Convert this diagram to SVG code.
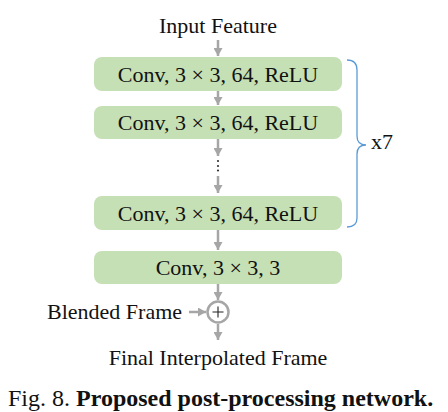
<svg xmlns="http://www.w3.org/2000/svg" width="448" height="412" viewBox="0 0 448 412">
<style>
.box{fill:#c5e0b4;stroke:none}
.t{font-family:"Liberation Serif","Times New Roman",serif;font-size:22px;fill:#111;text-anchor:middle}
.lbl{font-family:"Liberation Serif","Times New Roman",serif;font-size:22px;fill:#111}
.ar{stroke:#a6a6a6;stroke-width:2.5;fill:none;marker-end:url(#ah)}
</style>
<defs>
<marker id="ah" markerUnits="userSpaceOnUse" markerWidth="9" markerHeight="9" refX="8" refY="4.5" orient="auto">
<path d="M0,0 L8,4.5 L0,9 Z" fill="#a6a6a6"/>
</marker>
</defs>
<rect width="448" height="412" fill="#fff"/>
<text id="input" class="t" x="218" y="33">Input Feature</text>
<g id="conv1"><rect class="box" x="94" y="57" width="248" height="34" rx="8"/><text class="t" x="218" y="82">Conv, 3 × 3, 64, ReLU</text></g>
<g id="conv2"><rect class="box" x="94" y="106" width="248" height="33" rx="8"/><text class="t" x="218" y="130">Conv, 3 × 3, 64, ReLU</text></g>
<g id="dots"><circle cx="218" cy="161" r="1.1" fill="#333"/><circle cx="218" cy="166" r="1.1" fill="#333"/><circle cx="218" cy="170.5" r="1.1" fill="#333"/></g>
<g id="conv3"><rect class="box" x="94" y="196" width="248" height="34" rx="8"/><text class="t" x="218" y="221">Conv, 3 × 3, 64, ReLU</text></g>
<g id="conv4"><rect class="box" x="94" y="251" width="248" height="33" rx="8"/><text class="t" x="218" y="275">Conv, 3 × 3, 3</text></g>
<g id="add"><circle cx="218" cy="312" r="10.5" fill="#fff" stroke="#a6a6a6" stroke-width="2.5"/><path d="M212.5,312 H223.5 M218,306.5 V317.5" stroke="#222" stroke-width="1.1"/></g>
<text id="blended" class="lbl" x="47" y="319">Blended Frame</text>
<text id="output" class="t" x="218" y="365">Final Interpolated Frame</text>
<g id="brace"><path d="M347,60 Q357,60 357,70 V136 Q357,145 366,145 Q357,145 357,154 V218 Q357,227 347,227" fill="none" stroke="#5b9bd5" stroke-width="1.3"/><text class="lbl" x="371" y="149" font-size="24">x7</text></g>
<g id="connectors">
<line class="ar" x1="218" y1="40" x2="218" y2="56"/>
<line class="ar" x1="218" y1="91" x2="218" y2="105"/>
<line class="ar" x1="218" y1="139" x2="218" y2="156"/>
<line class="ar" x1="218" y1="176" x2="218" y2="193"/>
<line class="ar" x1="218" y1="230" x2="218" y2="250"/>
<line class="ar" x1="218" y1="284" x2="218" y2="300"/>
<line class="ar" x1="189" y1="312" x2="206" y2="312"/>
<line class="ar" x1="218" y1="324" x2="218" y2="340"/>
</g>
<text id="caption" x="8" y="406" font-family="'Liberation Serif','Times New Roman',serif" font-size="24" fill="#111">Fig. 8. <tspan font-weight="bold">Proposed post-processing network.</tspan></text>
</svg>
